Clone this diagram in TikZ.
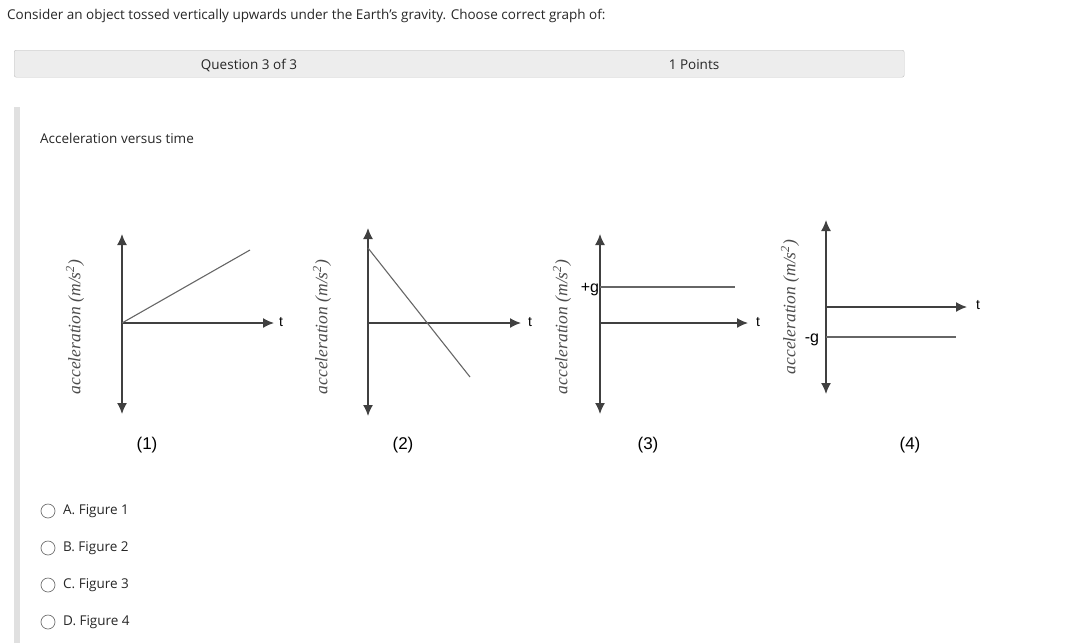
\documentclass[tikz,border=0pt]{standalone}
\usepackage{fontspec}
\usetikzlibrary{arrows.meta}
\setmainfont{Open Sans}
\newfontfamily\arialf{Liberation Sans}
\newfontfamily\timesf{Liberation Serif}
\begin{document}
\begin{tikzpicture}[x=1pt,y=-1pt,
  ui/.style={font=\fontsize{13.5}{15}\selectfont, text=black!85, inner sep=0},
  axis/.style={draw=black!75, line width=1.4pt, >={Latex[length=11pt,width=10pt]}},
  plot/.style={draw=black!60, line width=1.1pt},
  ylab/.style={rotate=90, font=\timesf\itshape\fontsize{17.5}{18}\selectfont, text=black!70, inner sep=0},
  tl/.style={font=\arialf\fontsize{14}{15}\selectfont, inner sep=0},
  fig/.style={font=\arialf\fontsize{17}{18}\selectfont, inner sep=0},
  radio/.style={circle, draw=black!55, line width=0.7pt, minimum size=14pt, inner sep=0}]
\useasboundingbox (0,0) rectangle (1071,643);
\newcommand\acclab{acceleration (m/s\textsuperscript{2})}
\node[ui, anchor=west] (q) at (7,16) {Consider an object tossed vertically upwards under the Earth's gravity. Choose correct graph of:};
\node[draw=black!25, fill=black!7, rounded corners=2pt, minimum width=890pt, minimum height=27pt, anchor=north west, inner sep=0] (hdr) at (14,50) {};
\node[ui] (qn) at (249,65) {Question 3 of 3};
\node[ui] (pts) at (694,65) {1 Points};
\fill[black!12] (14,107) rectangle (20,643);
\node[ui, anchor=west] (avt) at (40,138) {Acceleration versus time};
% graph 1
\coordinate (o1) at (122,323);
\draw[axis,<->] (122,234) -- (122,414);
\draw[axis,->] (o1) -- (274,323);
\node[tl] (t1) at (281,322) {t};
\draw[plot] (o1) -- (250,250);
\node[ylab] (l1) at (75,327) {\acclab};
\node[fig] (f1) at (147,445) {(1)};
% graph 2
\coordinate (o2) at (368,323);
\draw[axis,<->] (368,228) -- (368,416);
\draw[axis,->] (o2) -- (521,323);
\node[tl] (t2) at (530,322) {t};
\draw[plot] (368,248) -- (470,377);
\node[ylab] (l2) at (322,327) {\acclab};
\node[fig] (f2) at (403,445) {(2)};
% graph 3
\coordinate (o3) at (600,323);
\draw[axis,<->] (600,234) -- (600,414);
\draw[axis,->] (o3) -- (748,323);
\node[tl] (t3) at (758,322) {t};
\draw[plot] (600,287) -- (735,287);
\node[ylab] (l3) at (562,327) {\acclab};
\node[tl, font=\arialf\fontsize{16}{17}\selectfont] (g3) at (590,290) {+g};
\node[fig] (f3) at (648,445) {(3)};
% graph 4
\coordinate (o4) at (826,307);
\draw[axis,<->] (826,220) -- (826,394);
\draw[axis,->] (o4) -- (967,307);
\node[tl] (t4) at (978,305) {t};
\draw[plot] (826,337) -- (956,337);
\node[tl, font=\arialf\fontsize{16}{17}\selectfont] (g4) at (812,340) {-g};
\node[ylab] (l4) at (790,307) {\acclab};
\node[fig] (f4) at (910,445) {(4)};
% options
\foreach \y/\t [count=\i] in {511/A. Figure 1,548/B. Figure 2,585/C. Figure 3,622/D. Figure 4}{
  \node[radio] (r\i) at (48,\y) {};
  \node[ui, anchor=west] (o\i) at (63,\y) {\t};
}
\end{tikzpicture}
\end{document}
